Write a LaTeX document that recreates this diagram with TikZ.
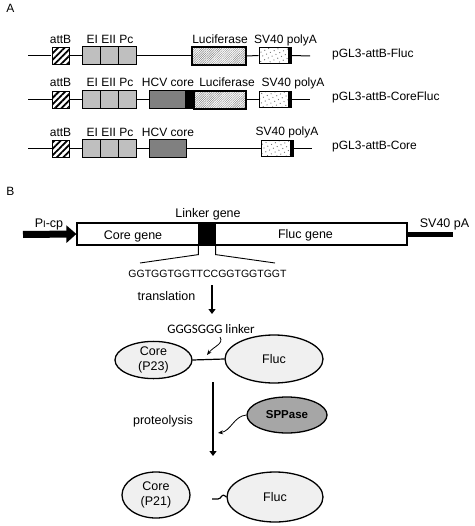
\documentclass[tikz,border=0pt]{standalone}
\usepackage{fontspec}
\setmainfont{Liberation Sans}
\newfontfamily\calibfont{Carlito}
\usetikzlibrary{patterns.meta,arrows.meta,shapes.geometric}
\tikzset{
  lbl/.style={font=\fontsize{12}{14}\selectfont, inner sep=0pt, anchor=base},
  lblb/.style={font=\fontsize{12.5}{15}\selectfont, inner sep=0pt, anchor=base},
  bb/.style={line width=1pt},
  attbbox/.style={draw, line width=1pt, minimum width=17pt, minimum height=17pt, inner sep=0pt,
    pattern={Lines[angle=45,distance=4.5pt,line width=1.8pt]}},
  eibox/.style={draw, line width=1pt, fill=gray!50, minimum width=18.33pt, minimum height=18pt, inner sep=0pt},
  lucbox/.style={draw, line width=1.2pt, minimum height=18pt, inner sep=0pt,
    pattern={Lines[angle=45,distance=1.6pt,line width=0.45pt]}, pattern color=gray},
  hcvbox/.style={draw, line width=1pt, fill=gray, minimum height=18pt, inner sep=0pt},
  blkbox/.style={draw, line width=1pt, fill=black, inner sep=0pt},
  svbox/.style={draw, line width=1pt, minimum width=32pt, minimum height=16pt, inner sep=0pt,
    pattern={Dots[radius=0.65pt,distance=4.2pt,angle=25]}, pattern color=black!55,
    path picture={\fill[black] ([xshift=-3.5pt]path picture bounding box.north east) rectangle (path picture bounding box.south east);}},
  genebox/.style={draw, line width=1.2pt, fill=white, minimum height=22pt, inner sep=0pt},
  protell/.style={ellipse, draw, line width=1.3pt, fill=gray!12, align=center, inner sep=0pt,
    font=\fontsize{12.5}{15}\selectfont},
  bigarrow/.style={line width=2.5pt, -{Triangle[length=5pt,width=7pt]}},
  thinarrow/.style={line width=0.8pt, -{Stealth[length=5pt,width=4pt]}},
}
\begin{document}
\begin{tikzpicture}[x=1pt,y=-1pt]
\useasboundingbox (0,0) rectangle (474,526);
% panel letters
\node[lbl] (pA) at (10.5,13) {A};
\node[lbl] (pB) at (10.5,196) {B};

% ---------- Row 1 ----------
\coordinate (r1beg) at (28,56);
\coordinate (r1end) at (310,56);
\node[attbbox] (r1a) at (60.5,56) {};
\node[eibox] (r1e1) at (91.17,56) {};
\node[eibox] (r1e2) at (109.5,56) {};
\node[eibox] (r1e3) at (127.83,56) {};
\node[lucbox, minimum width=54pt] (r1l) at (219,56) {};
\node[svbox] (r1sv) at (275,55.5) {};
\draw[bb] (r1beg) -- (r1a.west);
\draw[bb] (r1a.east) -- (r1e1.west);
\draw[bb] (r1e3.east) -- (r1l.west);
\draw[bb] (r1l.east) -- (r1sv.west);
\draw[bb] (r1sv.east) -- (r1end);
\node[lbl] (r1ta) at (60.5,43.5) {attB};
\node[lbl] (r1te) at (110,43.5) {EI EII Pc};
\node[lbl] (r1tl) at (220,43.5) {Luciferase};
\node[lbl] (r1ts) at (285.5,43.5) {SV40 polyA};
\node[lbl, anchor=base west] (r1n) at (332,57.5) {pGL3-attB-Fluc};

% ---------- Row 2 ----------
\coordinate (r2beg) at (28,100);
\coordinate (r2end) at (310,100);
\node[attbbox] (r2a) at (60.5,100) {};
\node[eibox] (r2e1) at (91.17,100) {};
\node[eibox] (r2e2) at (109.5,100) {};
\node[eibox] (r2e3) at (127.83,100) {};
\node[hcvbox, minimum width=36pt] (r2h) at (167,100) {};
\node[blkbox, minimum width=9pt, minimum height=18pt] (r2k) at (189.5,100) {};
\node[lucbox, minimum width=52pt] (r2l) at (220,100) {};
\node[svbox] (r2sv) at (275,100) {};
\draw[bb] (r2beg) -- (r2a.west);
\draw[bb] (r2a.east) -- (r2e1.west);
\draw[bb] (r2e3.east) -- (r2h.west);
\draw[bb] (r2l.east) -- (r2sv.west);
\draw[bb] (r2sv.east) -- (r2end);
\node[lbl] (r2ta) at (60.5,87) {attB};
\node[lbl] (r2te) at (110,87) {EI EII Pc};
\node[lbl] (r2th) at (168,87) {HCV core};
\node[lbl] (r2tl) at (227,87) {Luciferase};
\node[lbl] (r2ts) at (293,87) {SV40 polyA};
\node[lbl, anchor=base west] (r2n) at (332,100.5) {pGL3-attB-CoreFluc};

% ---------- Row 3 ----------
\coordinate (r3beg) at (28,149);
\coordinate (r3end) at (312,149);
\node[attbbox] (r3a) at (60.5,149) {};
\node[eibox] (r3e1) at (91.17,149) {};
\node[eibox] (r3e2) at (109.5,149) {};
\node[eibox] (r3e3) at (127.83,149) {};
\node[hcvbox, minimum width=37pt] (r3h) at (167.5,149) {};
\node[svbox] (r3sv) at (277,149) {};
\draw[bb] (r3beg) -- (r3a.west);
\draw[bb] (r3a.east) -- (r3e1.west);
\draw[bb] (r3e3.east) -- (r3h.west);
\draw[bb] (r3h.east) -- (r3sv.west);
\draw[bb] (r3sv.east) -- (r3end);
\node[lbl] (r3ta) at (60.5,136.5) {attB};
\node[lbl] (r3te) at (110,136.5) {EI EII Pc};
\node[lbl] (r3th) at (168,136.5) {HCV core};
\node[lbl] (r3ts) at (287,136) {SV40 polyA};
\node[lbl, anchor=base west] (r3n) at (332,150) {pGL3-attB-Core};

% ---------- Panel B ----------
\node[genebox, minimum width=122pt] (coreg) at (138,234) {};
\node[genebox, minimum width=192pt] (flucg) at (311,234) {};
\node[blkbox, line width=1.2pt, minimum width=16pt, minimum height=22pt] (lk) at (207,234) {};
\node[lblb] (tcore) at (133,239) {Core gene};
\node[lblb] (tfluc) at (305.5,238.5) {Fluc gene};
\node[lblb] (tlink) at (208,218) {Linker gene};
\node[lblb] (tpl) at (49,227) {P{\fontsize{9.5}{10}\selectfont I}-cp};
\node[lblb] (tsv) at (444.5,227) {SV40 pA};
\coordinate (pstart) at (23,234.5);
\draw[line width=7pt, -{Triangle[length=10pt,width=17pt]}] (pstart) -- (coreg.west);
\coordinate (svend) at (453,234);
\draw[line width=5pt] (flucg.east) -- (svend);
\coordinate (zl) at (140,263);
\coordinate (zr) at (275,263);
\draw[line width=0.9pt] (lk.south west) -- ++(0,9) -- (zl);
\draw[line width=0.9pt] (lk.south east) -- ++(0,9) -- (zr);
\node[font=\fontsize{10.5}{12}\selectfont, inner sep=0pt, anchor=base] (seq) at (207.5,277.5) {GGTGGTGGTTCCGGTGGTGGT};

\coordinate (ta) at (212,285);
\coordinate (tb) at (212,314);
\draw[bigarrow] (ta) -- (tb);
\node[lblb] (ttr) at (166.5,300.5) {translation};

\node[font=\calibfont\fontsize{13}{15}\selectfont, inner sep=0pt, anchor=base] (tgl) at (211,333) {GGGSGGG linker};
\coordinate (gla) at (220,337);
\coordinate (glb) at (207,355);
\draw[thinarrow] (gla) .. controls (224,344) and (214,346) .. (glb);

\node[protell, minimum width=77pt, minimum height=34pt] (c23) at (153.5,360) {Core\\(P23)};
\node[protell, minimum width=98pt, minimum height=48pt] (f23) at (274,359) {Fluc};
\draw[line width=1.2pt] (c23.east) -- (f23.west);

\coordinate (pa) at (213,382);
\coordinate (pb) at (213,456);
\draw[bigarrow] (pa) -- (pb);
\node[lblb] (tpr) at (163,424) {proteolysis};

\node[ellipse, draw, line width=1.3pt, fill=gray!70, inner sep=0pt, minimum width=80pt, minimum height=36pt,
  font=\bfseries\fontsize{11.5}{13}\selectfont] (spp) at (287,415) {SPPase};
\coordinate (spb) at (218,433);
\draw[thinarrow] (spp.west) .. controls (234,416) and (231,431) .. (spb);

\node[protell, minimum width=68pt, minimum height=46pt] (c21) at (156,495) {Core\\(P21)};
\node[protell, minimum width=96pt, minimum height=50pt] (f21) at (275,497) {Fluc};
\coordinate (sq) at (212,499);
\draw[line width=1.2pt] (sq) -- (218,499) .. controls (222,499) and (221,492) .. (f21.west);
\end{tikzpicture}
\end{document}
